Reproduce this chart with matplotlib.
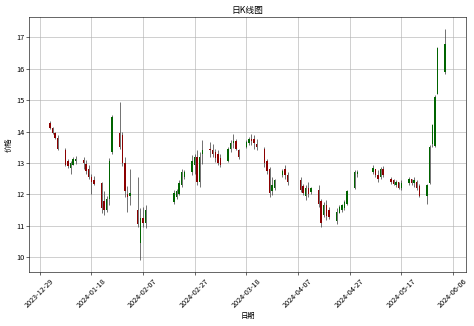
import matplotlib
matplotlib.use("Agg")
import matplotlib.pyplot as plt
import matplotlib.dates as mdates
import pandas as pd

plt.rcParams['font.family'] = ['Noto Sans CJK SC', 'DejaVu Sans']
plt.rcParams['axes.unicode_minus'] = False

# 日K数据
dates = [
    "2024-01-02", "2024-01-03", "2024-01-04", "2024-01-05", "2024-01-08", "2024-01-09",
    "2024-01-10", "2024-01-11", "2024-01-12", "2024-01-15", "2024-01-16", "2024-01-17",
    "2024-01-18", "2024-01-19", "2024-01-22", "2024-01-23", "2024-01-24", "2024-01-25",
    "2024-01-26", "2024-01-29", "2024-01-30", "2024-01-31", "2024-02-01", "2024-02-02",
    "2024-02-05", "2024-02-06", "2024-02-07", "2024-02-08", "2024-02-19", "2024-02-20",
    "2024-02-21", "2024-02-22", "2024-02-23", "2024-02-26", "2024-02-27", "2024-02-28",
    "2024-02-29", "2024-03-01", "2024-03-04", "2024-03-05", "2024-03-06", "2024-03-07",
    "2024-03-08", "2024-03-11", "2024-03-12", "2024-03-13", "2024-03-14", "2024-03-15",
    "2024-03-18", "2024-03-19", "2024-03-20", "2024-03-21", "2024-03-22", "2024-03-25",
    "2024-03-26", "2024-03-27", "2024-03-28", "2024-03-29", "2024-04-01", "2024-04-02",
    "2024-04-03", "2024-04-08", "2024-04-09", "2024-04-10", "2024-04-11", "2024-04-12",
    "2024-04-15", "2024-04-16", "2024-04-17", "2024-04-18", "2024-04-19", "2024-04-22",
    "2024-04-23", "2024-04-24", "2024-04-25", "2024-04-26", "2024-04-29", "2024-04-30",
    "2024-05-06", "2024-05-07", "2024-05-08", "2024-05-09", "2024-05-10", "2024-05-13",
    "2024-05-14", "2024-05-15", "2024-05-16", "2024-05-17", "2024-05-20", "2024-05-21",
    "2024-05-22", "2024-05-23", "2024-05-24", "2024-05-27", "2024-05-28", "2024-05-29",
    "2024-05-30", "2024-05-31", "2024-06-03",
]
opens = [
    14.28, 14.10, 13.95, 13.80, 13.42, 13.05, 12.85, 12.95, 13.05, 13.10, 12.98, 12.80,
    12.55, 12.45, 12.35, 11.80, 11.50, 11.85, 13.35, 13.95, 13.90, 13.00, 12.00, 11.95,
    11.50, 10.45, 11.25, 11.10, 11.75, 11.90, 12.00, 12.30, 12.55, 12.70, 12.95, 13.20,
    12.40, 13.30, 13.45, 13.40, 13.35, 13.30, 13.15, 13.05, 13.45, 13.65, 13.70, 13.40,
    13.50, 13.62, 13.75, 13.75, 13.60, 13.45, 13.05, 12.80, 12.10, 12.20, 12.60, 12.80,
    12.60, 12.45, 12.25, 11.95, 12.20, 12.08, 12.15, 11.80, 11.35, 11.65, 11.50, 11.15,
    11.42, 11.50, 11.55, 11.70, 12.20, 12.65, 12.70, 12.80, 12.60, 12.55, 12.80, 12.50,
    12.45, 12.30, 12.38, 12.20, 12.35, 12.48, 12.35, 12.40, 12.25, 11.95, 12.35, 13.60,
    13.55, 15.21, 15.90,
]
highs = [
    14.32, 14.15, 13.98, 13.88, 13.47, 13.12, 13.05, 13.18, 13.22, 13.20, 13.08, 12.95,
    12.66, 12.58, 12.40, 12.10, 11.95, 13.15, 14.52, 14.94, 14.00, 13.20, 12.25, 12.80,
    12.55, 11.55, 11.60, 11.65, 12.15, 12.18, 12.45, 12.82, 12.79, 13.24, 13.30, 13.40,
    13.35, 13.72, 13.67, 13.61, 13.45, 13.40, 13.30, 13.51, 13.72, 13.93, 13.77, 13.45,
    13.72, 13.82, 13.93, 13.88, 13.77, 13.51, 13.14, 12.87, 12.55, 12.50, 12.82, 12.92,
    12.71, 12.55, 12.34, 12.29, 12.39, 12.23, 12.29, 11.86, 11.76, 11.81, 11.60, 11.55,
    11.65, 11.70, 11.81, 12.13, 12.76, 12.79, 12.92, 12.82, 12.76, 12.87, 12.89, 12.55,
    12.50, 12.47, 12.39, 12.45, 12.55, 12.50, 12.55, 12.45, 12.34, 12.34, 13.56, 14.25,
    15.15, 16.69, 17.28,
]
lows = [
    14.07, 13.92, 13.76, 13.40, 12.90, 12.85, 12.65, 12.92, 12.98, 12.80, 12.65, 12.50,
    12.02, 12.30, 11.40, 11.35, 11.45, 11.65, 13.30, 13.45, 12.90, 11.90, 11.45, 11.65,
    10.95, 9.90, 10.96, 10.92, 11.70, 11.86, 11.97, 12.23, 12.50, 12.60, 12.66, 12.29,
    12.23, 12.98, 13.19, 13.19, 13.03, 12.92, 12.87, 13.03, 13.35, 13.46, 13.40, 13.14,
    13.46, 13.56, 13.56, 13.45, 13.40, 12.87, 12.66, 11.91, 11.97, 12.13, 12.55, 12.50,
    12.29, 12.07, 11.97, 11.81, 11.91, 12.00, 11.60, 10.96, 11.28, 11.17, 11.23, 11.07,
    11.39, 11.44, 11.49, 11.65, 12.18, 12.55, 12.66, 12.55, 12.39, 12.50, 12.55, 12.34,
    12.29, 12.23, 12.18, 12.13, 12.29, 12.29, 12.23, 12.13, 11.91, 11.70, 12.34, 13.51,
    13.51, 15.21, 15.84,
]
closes = [
    14.12, 13.96, 13.80, 13.45, 12.95, 12.90, 13.00, 13.12, 13.12, 13.00, 12.75, 12.55,
    12.40, 12.32, 11.55, 11.50, 11.85, 13.05, 14.45, 13.50, 13.00, 12.10, 11.90, 12.05,
    11.05, 11.25, 11.10, 11.50, 12.05, 12.10, 12.35, 12.70, 12.72, 13.05, 13.20, 12.40,
    13.20, 13.40, 13.40, 13.30, 13.15, 13.00, 12.95, 13.45, 13.65, 13.70, 13.45, 13.20,
    13.68, 13.75, 13.70, 13.62, 13.50, 13.00, 12.75, 12.05, 12.30, 12.45, 12.75, 12.60,
    12.40, 12.15, 12.05, 12.20, 12.00, 12.20, 11.70, 11.10, 11.65, 11.30, 11.28, 11.45,
    11.60, 11.65, 11.75, 12.10, 12.70, 12.72, 12.85, 12.60, 12.50, 12.80, 12.60, 12.40,
    12.32, 12.40, 12.20, 12.35, 12.50, 12.35, 12.45, 12.20, 11.95, 12.30, 13.50, 14.20,
    15.10, 16.65, 16.80,
]

df = pd.DataFrame({"open": opens, "high": highs, "low": lows, "close": closes},
                  index=pd.to_datetime(dates))

fig = plt.figure(figsize=(9, 6.19), dpi=52.67)
ax = fig.add_axes([0.062, 0.166, 0.9205, 0.782])

up = df["close"] >= df["open"]
colors = ["darkgreen" if u else "darkred" for u in up]

# 影线
ax.vlines(df.index, df["low"], df["high"], color="#444444", linewidth=1.0)
# 实体
ax.bar(df.index, df["close"] - df["open"], bottom=df["open"], width=0.55,
       color=colors, zorder=3)

ticks = pd.date_range("2023-12-29", periods=9, freq="20D")
ax.set_xticks(ticks)
ax.xaxis.set_major_formatter(mdates.DateFormatter("%Y-%m-%d"))
plt.setp(ax.get_xticklabels(), rotation=45)

ax.set_title("日K线图")
ax.set_xlabel("日期")
ax.set_ylabel("价格")
ax.grid(True)

fig.savefig("out.png", dpi=52.67)
